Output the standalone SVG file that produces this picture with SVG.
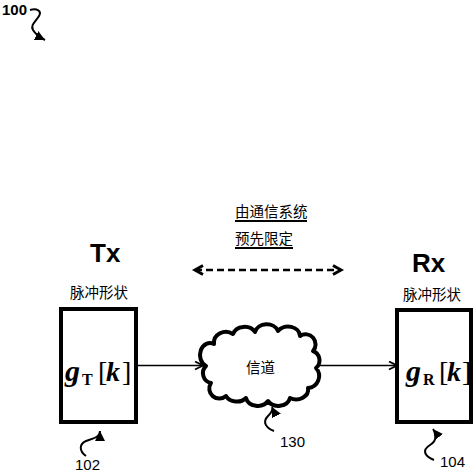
<svg xmlns="http://www.w3.org/2000/svg" width="474" height="472" viewBox="0 0 474 472">
<style>
.num{font-family:"Liberation Sans",Arial,sans-serif;font-size:15px;fill:#000}
.cjk{font-family:"Liberation Sans","Noto Sans CJK SC",sans-serif;font-size:14.5px;fill:#000}
.big{font-family:"Liberation Sans",Arial,sans-serif;font-size:26px;font-weight:bold;fill:#000}
.math{font-family:"Liberation Serif","Times New Roman",serif;fill:#000}
.box{fill:#fff;stroke:#000;stroke-width:4}
.conn{stroke:#000;stroke-width:1.5;fill:none}
.call{stroke:#000;stroke-width:2;fill:none}
</style>
<defs>
<marker id="open" markerUnits="userSpaceOnUse" markerWidth="12" markerHeight="12" refX="9" refY="5" orient="auto">
<path d="M1,1 L9,5 L1,9" fill="none" stroke="#000" stroke-width="1.8"/>
</marker>
<marker id="chev" markerUnits="userSpaceOnUse" markerWidth="14" markerHeight="14" refX="10" refY="6" orient="auto-start-reverse">
<path d="M2,1.5 L10,6 L2,10.5" fill="none" stroke="#000" stroke-width="3"/>
</marker>
<marker id="tri" markerUnits="userSpaceOnUse" markerWidth="12" markerHeight="12" refX="10" refY="5" orient="auto">
<path d="M0,0 L10,5 L0,10 z" fill="#000"/>
</marker>
</defs>

<g id="label-100">
<text class="num" x="2" y="15" font-weight="bold">100</text>
<path class="call" d="M30,10 C37,8 42,11 39,16 C36,21 30,25 33,30 C36,35 41,38 45,40" marker-end="url(#tri)"/>
</g>

<g id="predefined">
<text class="cjk" x="235" y="217">由通信系统</text>
<line x1="235" y1="221" x2="307" y2="221" stroke="#000" stroke-width="2"/>
<text class="cjk" x="235" y="244">预先限定</text>
<line x1="235" y1="248" x2="293" y2="248" stroke="#000" stroke-width="2"/>
</g>

<g id="connectors">
<line x1="195" y1="270" x2="341" y2="270" stroke="#000" stroke-width="2.5" stroke-dasharray="7,4" marker-start="url(#chev)" marker-end="url(#chev)"/>
<line class="conn" x1="136" y1="365.5" x2="203" y2="365.5" marker-end="url(#open)"/>
<line class="conn" x1="317" y1="365.5" x2="397" y2="365.5" marker-end="url(#open)"/>
</g>

<g id="tx">
<text class="big" x="90" y="262">Tx</text>
<text class="cjk" x="70" y="298">脉冲形状</text>
<rect class="box" x="61" y="309" width="75" height="113"/>
<text class="math" y="381"><tspan x="65" font-size="30" font-style="italic" font-weight="bold">g</tspan><tspan x="82" y="385" font-size="16" font-weight="bold">T</tspan><tspan x="98" y="381" font-size="28">[</tspan><tspan x="106" font-size="28" font-style="italic" font-weight="bold">k</tspan><tspan x="122" font-size="28">]</tspan></text>
</g>
<g id="label-102">
<text class="num" x="75" y="470">102</text>
<path class="call" d="M86,456 C79,451 79,444 86,441 C94,438 100,437 100,431" marker-end="url(#tri)"/>
</g>

<g id="channel">
<path d="M206,366 A10,12 0 0 1 214,344 A12,11 0 0 1 233,334 A12,10 0 0 1 255,332 A12,10 0 0 1 278,331 A12,10 0 0 1 300,336 A10,10 0 0 1 313,351 A10,10 0 0 1 316,368 A12,12 0 0 1 308,388 A12,10 0 0 1 290,398 A12,10 0 0 1 268,401 A12,10 0 0 1 246,398 A12,10 0 0 1 226,396 A10,10 0 0 1 211,383 A10,10 0 0 1 206,366 Z" fill="#fff" stroke="#000" stroke-width="4" stroke-linejoin="round"/>
<text class="cjk" x="246" y="373">信道</text>
</g>
<g id="label-130">
<text class="num" x="280" y="447">130</text>
<path class="call" d="M274,431 C266,428 262,422 268,416 C273,411 273,409 272,407" marker-end="url(#tri)"/>
</g>

<g id="rx">
<text class="big" x="412" y="272">Rx</text>
<text class="cjk" x="403" y="300">脉冲形状</text>
<rect class="box" x="397" y="310" width="74" height="112"/>
<text class="math" y="381"><tspan x="406" font-size="30" font-style="italic" font-weight="bold">g</tspan><tspan x="423" y="385" font-size="16" font-weight="bold">R</tspan><tspan x="439" y="381" font-size="28">[</tspan><tspan x="447" font-size="28" font-style="italic" font-weight="bold">k</tspan><tspan x="462" font-size="28">]</tspan></text>
</g>
<g id="label-104">
<text class="num" x="440" y="467">104</text>
<path class="call" d="M434,460 C424,456 422,450 430,445 C438,440 436,433 433,429" marker-end="url(#tri)"/>
</g>
</svg>
